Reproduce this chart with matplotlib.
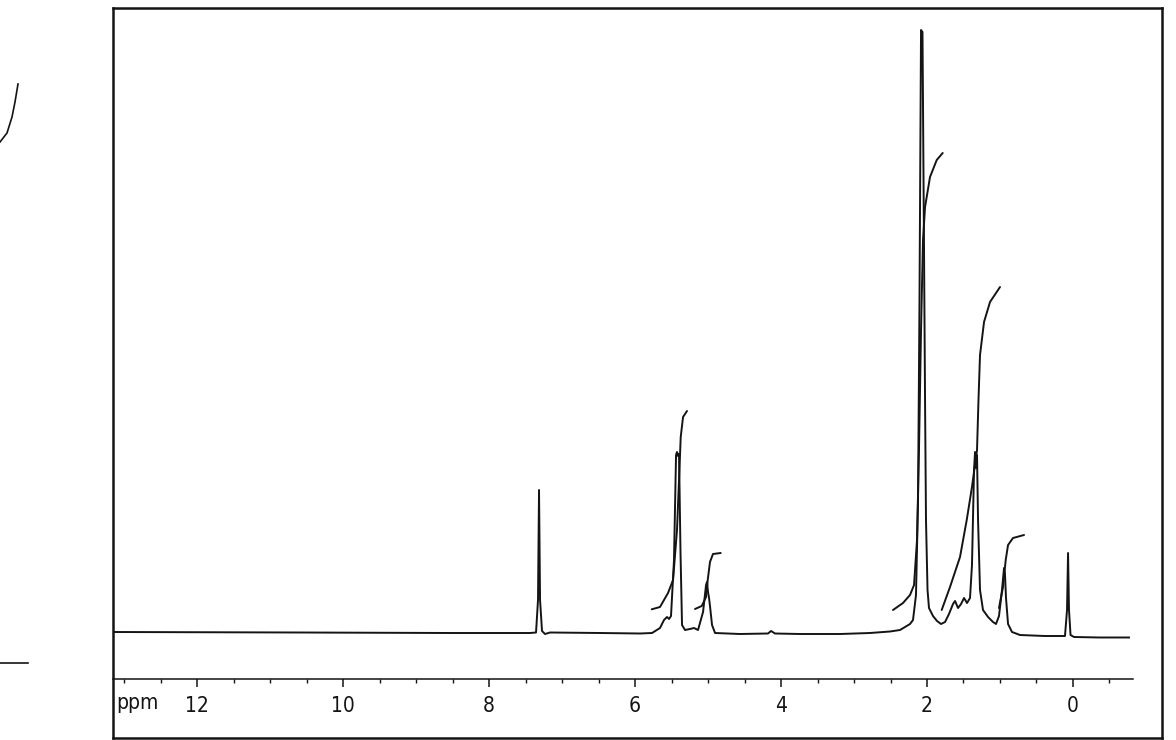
import matplotlib
matplotlib.use('Agg')
import matplotlib.pyplot as plt
from matplotlib.ticker import MultipleLocator

#---    Spectrum trace (chemical shift in ppm, intensity above left baseline)
spec_ppm = [13.151, 10.589, 8.534, 7.438, 7.356, 7.329, 7.315, 7.301, 7.274, 7.233,
            7.164, 6.479, 5.932, 5.767, 5.658, 5.603, 5.562, 5.534, 5.507, 5.466,
            5.438, 5.425, 5.411, 5.397, 5.377, 5.356, 5.315, 5.247, 5.192, 5.137,
            5.068, 5.027, 5.014, 5.000, 4.986, 4.973, 4.945, 4.904, 4.562, 4.178,
            4.137, 4.082, 3.740, 3.192, 2.781, 2.507, 2.370, 2.301, 2.233, 2.192,
            2.151, 2.123, 2.103, 2.082, 2.062, 2.041, 2.027, 2.014, 1.993, 1.973,
            1.918, 1.863, 1.808, 1.753, 1.699, 1.644, 1.616, 1.575, 1.534, 1.493,
            1.452, 1.411, 1.384, 1.356, 1.342, 1.329, 1.315, 1.301, 1.274, 1.233,
            1.164, 1.096, 1.055, 1.014, 0.973, 0.945, 0.932, 0.918, 0.890, 0.836,
            0.726, 0.384, 0.110, 0.082, 0.068, 0.055, 0.034, -0.014, -0.370, -0.767]
spec_int = [0, -0.5, -1, -1, -0.5, 32, 142, 32, 1, -2,
            -0.5, -1, -1.5, -1, 4, 12, 15, 13, 16, 72,
            177, 180, 176, 178, 80, 7, 2, 3, 4, 2,
            20, 47, 50, 40, 34, 26, 7, -1, -2, -1.5,
            1, -1.5, -2, -2, -1, 0.5, 2, 5, 8, 12,
            37, 132, 332, 602, 600, 382, 232, 112, 42, 24,
            16, 11, 8, 10, 18, 28, 31, 24, 28, 34,
            29, 34, 67, 162, 180, 164, 177, 112, 42, 22,
            15, 10, 8, 16, 42, 64, 58, 34, 8, 0,
            -3, -4, -4, 22, 79, 22, -3, -5, -5.5, -5.5]

#---    Integral curves
int1_ppm = [5.771, 5.658, 5.548, 5.479, 5.425, 5.397, 5.374, 5.342, 5.288]
int1_val = [22.7, 25, 39, 52, 102, 152, 195, 215, 221]
int2_ppm = [5.178, 5.086, 5.027, 5.004, 4.973, 4.932, 4.826]
int2_val = [23, 26, 35, 52, 70, 78, 79]
int3_ppm = [2.466, 2.329, 2.233, 2.178, 2.137, 2.110, 2.082, 2.055, 2.027, 1.959, 1.867, 1.785]
int3_val = [22, 29, 37, 47, 92, 182, 302, 392, 425, 455, 472, 479]
int4_ppm = [1.799, 1.685, 1.548, 1.456, 1.384, 1.315, 1.295, 1.274, 1.219, 1.137, 1.000]
int4_val = [22, 45, 75, 112, 145, 182, 232, 277, 310, 330, 345]
int5_ppm = [1.014, 0.959, 0.922, 0.890, 0.822, 0.671]
int5_val = [24, 45, 72, 87, 94, 97]
integrals = [(int1_ppm, int1_val), (int2_ppm, int2_val), (int3_ppm, int3_val),
             (int4_ppm, int4_val), (int5_ppm, int5_val)]

#---    Scale
major_ticks = [12, 10, 8, 6, 4, 2, 0]
tick_labels = ['12', '10', '8', '6', '4', '2', '0']

#---    Stray marks of the neighbouring scan at the left edge (pixels)
stray_curve_x = [0, 7, 12, 15, 18]
stray_curve_y = [142, 133, 117, 102, 84]
stray_line_x = [0, 28]
stray_line_y = [663, 663]

ink = '#141414'
W, H = 1176, 740

fig = plt.figure(figsize=(W / 100, H / 100), dpi=100)

#---    Frame with spectrum
ax = fig.add_axes([113 / W, 2 / H, (1162 - 113) / W, (738 - 8) / H])
ax.plot(spec_ppm, spec_int, color=ink, linewidth=1.4, solid_joinstyle='round')
for xs, ys in integrals:
    ax.plot(xs, ys, color=ink, linewidth=1.4, solid_joinstyle='round', solid_capstyle='round')
ax.set_xlim(13.151, -1.219)
ax.set_ylim(-106, 624)
ax.set_xticks([])
ax.set_yticks([])
for s in ax.spines.values():
    s.set_linewidth(1.8)
    s.set_color(ink)

#---    ppm scale inside the frame
ax_s = fig.add_axes([113 / W, (H - 679) / H, (1133 - 113) / W, 0.0005])
ax_s.set_facecolor('none')
for side in ['top', 'left', 'right']:
    ax_s.spines[side].set_visible(False)
ax_s.spines['bottom'].set_linewidth(1.1)
ax_s.spines['bottom'].set_color(ink)
ax_s.set_xlim(13.151, -0.822)
ax_s.set_yticks([])
ax_s.set_xticks(major_ticks)
ax_s.set_xticklabels(tick_labels, fontsize=15, family='DejaVu Sans',
                     fontstretch='condensed', color=ink)
ax_s.xaxis.set_minor_locator(MultipleLocator(0.5))
ax_s.tick_params(axis='x', which='major', direction='out', length=6, width=1.1, pad=6, colors=ink)
ax_s.tick_params(axis='x', which='minor', direction='out', length=3.2, width=1.0, colors=ink)
fig.text(116 / W, (H - 703) / H, 'ppm', ha='left', va='center', fontsize=15,
         family='DejaVu Sans', fontstretch='condensed', color=ink)

#---    Stray marks
ax_o = fig.add_axes([0, 0, 1, 1])
ax_o.set_xlim(0, W)
ax_o.set_ylim(H, 0)
ax_o.axis('off')
ax_o.plot(stray_curve_x, stray_curve_y, color=ink, linewidth=1.2)
ax_o.plot(stray_line_x, stray_line_y, color=ink, linewidth=1.2)

plt.savefig('out.png', dpi=100)
